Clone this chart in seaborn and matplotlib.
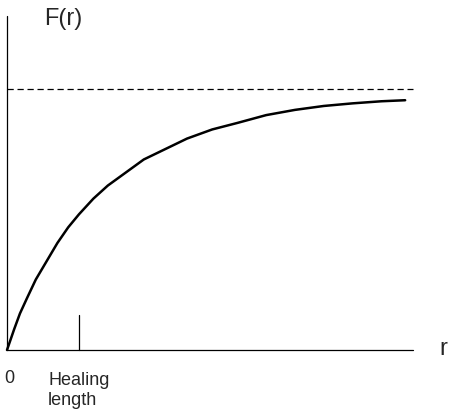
import matplotlib
matplotlib.use("Agg")
import matplotlib.pyplot as plt
import seaborn as sns
import pandas as pd

# r in units of the healing length, F normalised to its asymptote
r_vals = [0, 0.05, 0.1, 0.18, 0.28, 0.4, 0.55, 0.7, 0.85, 1.0, 1.2, 1.4, 1.65, 1.9,
          2.2, 2.5, 2.85, 3.2, 3.6, 4.0, 4.4, 4.8, 5.2, 5.53]
f_vals = [0, 0.04, 0.08, 0.14, 0.2, 0.27, 0.34, 0.41, 0.47, 0.52, 0.58, 0.63, 0.68, 0.73,
          0.77, 0.81, 0.845, 0.87, 0.9, 0.92, 0.935, 0.945, 0.953, 0.957]
r_max = 5.64
healing = 1.0

sns.set_style("white")
plt.rcParams['font.family'] = ['Liberation Sans', 'DejaVu Sans']

fig = plt.figure(figsize=(4.74, 4.18), dpi=100)
ax = fig.add_axes([0, 0, 1, 1])
df = pd.DataFrame({"r": r_vals, "F": f_vals})
sns.lineplot(data=df, x="r", y="F", ax=ax, color="black", lw=1.8)

# axes drawn by hand
ax.plot([0, r_max], [0, 0], color="black", lw=0.9)
ax.plot([0, 0], [0, 1.28], color="black", lw=0.9)
ax.plot([0, r_max], [1, 1], color="black", lw=0.9, ls=(0, (5, 3)))
ax.plot([healing, healing], [0, 0.135], color="black", lw=0.9)

ax.text(0.52, 1.27, "F(r)", fontsize=17, va="center")
ax.text(6.0, 0.005, "r", fontsize=17, va="center")
ax.text(-0.04, -0.11, "0", fontsize=13, va="center")
ax.text(0.57, -0.155, "Healing\nlength", fontsize=13, va="center", linespacing=1.3)

ax.set_xlim(-7 / 72, 467 / 72)
ax.set_ylim(-68 / 261, 350 / 261)
ax.axis("off")
fig.savefig("out.png", dpi=100)
